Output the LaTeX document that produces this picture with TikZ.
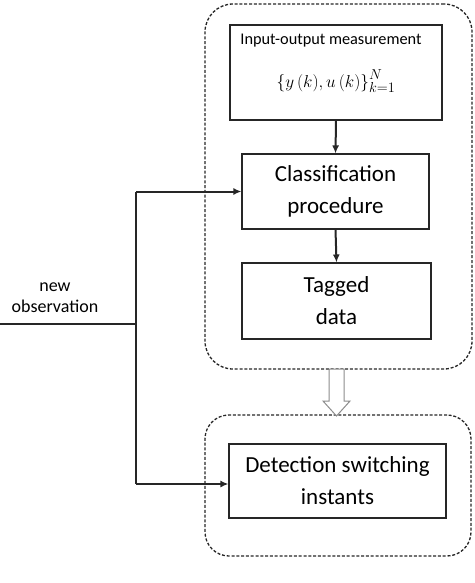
\documentclass[tikz,border=0pt]{standalone}
\usepackage{fontspec}
\setmainfont{Carlito}
\usetikzlibrary{arrows.meta,positioning}
\begin{document}
\begin{tikzpicture}[x=1pt,y=-1pt,
  box/.style={draw=black!85,line width=1.1pt,fill=white,inner sep=0pt,align=center,
    font=\fontsize{23}{32}\selectfont},
  group/.style={draw=black!85,line width=1.3pt,dash pattern=on 3pt off 1.8pt,inner sep=0pt},
  conn/.style={draw=black!85,line width=2pt},
  arr/.style={conn,-{Latex[length=8pt,width=7pt]}}]
\useasboundingbox (0,0) rectangle (474,583);
% dashed groups
\node[group,rounded corners=28pt,minimum width=267pt,minimum height=365pt] (g1) at (338.5,186.5) {};
\node[group,rounded corners=24pt,minimum width=266pt,minimum height=141pt] (g2) at (338,485.5) {};
% boxes
\node[box,minimum width=212pt,minimum height=95pt] (inp) at (336,72.5) {};
\node[anchor=base,font=\fontsize{16.3}{18}\selectfont] (inplab) at (331,45) {Input-output measurement};
\node[font=\fontsize{19}{22}\selectfont] (form) at (336,81) {$\bigl\{y\,(k),u\,(k)\bigr\}_{k=1}^{N}$};
\node[box,minimum width=187pt,minimum height=75pt] (cls) at (335.5,191.5) {Classification\\procedure};
\node[box,minimum width=189pt,minimum height=76pt] (tag) at (336.5,301) {Tagged\\data};
\node[box,minimum width=217pt,minimum height=74pt] (det) at (337.5,481) {Detection switching\\instants};
% label
\node[align=center,font=\fontsize{18}{21}\selectfont] (obs) at (55,298) {new\\observation};
% connectors
\coordinate (src) at (0,324);
\coordinate (jn) at (136,324);
\coordinate (jt) at (136,191.5);
\coordinate (jb) at (136,484);
\draw[conn] (src) -- (jn);
\draw[conn,line join=miter] (jt) -- (jb);
\draw[arr] (jt) -- (jt -| cls.west);
\draw[arr] (jb) -- (jb -| det.west);
\draw[arr] (inp.south) -- (cls.north);
\draw[arr] (cls.south) -- (tag.north);
% hollow arrow
\coordinate (hs) at (336.5,369);
\coordinate (ht) at (336.5,416);
\draw[draw=black!45,line width=1pt,fill=white,line join=miter]
  ([xshift=-7.5pt]hs) -- ([xshift=-7.5pt]hs |- 0,401) -- ([xshift=-13.5pt]hs |- 0,401) -- (ht)
  -- ([xshift=13.5pt]hs |- 0,401) -- ([xshift=7.5pt]hs |- 0,401) -- ([xshift=7.5pt]hs) -- cycle;
\end{tikzpicture}
\end{document}
